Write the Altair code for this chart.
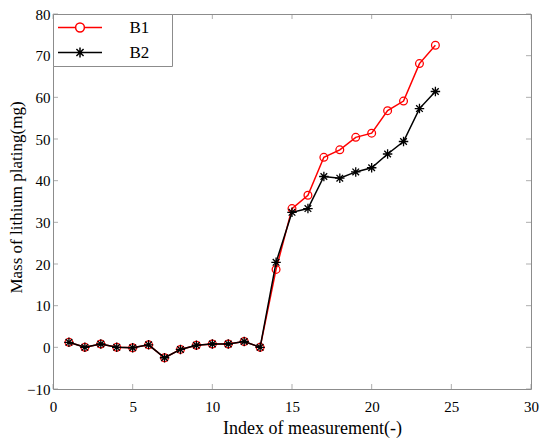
import altair as alt
import pandas as pd

# ---- data ----
index = list(range(1, 25))
b1 = [1.2, 0.0, 0.8, 0.0, -0.1, 0.6, -2.5, -0.5, 0.5, 0.8, 0.8, 1.4, 0.0,
      18.7, 33.3, 36.5, 45.6, 47.4, 50.4, 51.4, 56.8, 59.1, 68.1, 72.5]
b2 = [1.2, 0.0, 0.8, 0.0, -0.1, 0.6, -2.5, -0.5, 0.5, 0.8, 0.8, 1.4, 0.0,
      20.4, 32.4, 33.3, 41.0, 40.6, 42.1, 43.1, 46.4, 49.4, 57.3, 61.4]
series_names = ["B1", "B2"]
x_ticks = [0, 5, 10, 15, 20, 25, 30]
y_ticks = [-10, 0, 10, 20, 30, 40, 50, 60, 70, 80]
x_title = "Index of measurement(-)"
y_title = "Mass of lithium plating(mg)"

df = pd.DataFrame({
    "idx": index + index,
    "mass": b1 + b2,
    "series": ["B1"] * len(b1) + ["B2"] * len(b2),
})
df_xt = pd.DataFrame({"idx": x_ticks})
df_yt = pd.DataFrame({"mass": y_ticks})

FONT = "Liberation Serif"
FRAME = "#8c8c8c"
RED = "#ff0000"
BLACK = "#000000"

# marker paths
star_path = "M-1,0L1,0M0,-1L0,1M-0.7,-0.7L0.7,0.7M-0.7,0.7L0.7,-0.7"
leg_circle = ("M-4,0L-0.8,0M0.8,0L4,0"
              "M0.8,0A0.8,0.8 0 1,1 -0.8,0A0.8,0.8 0 1,1 0.8,0")
leg_star = ("M-4,0L4,0M0,-0.9L0,0.9M-0.65,-0.65L0.65,0.65"
            "M-0.65,0.65L0.65,-0.65")

xs = alt.Scale(domain=[x_ticks[0], x_ticks[-1]], nice=False, zero=False)
ys = alt.Scale(domain=[y_ticks[0], y_ticks[-1]], nice=False, zero=False)

x_enc = alt.X("idx:Q", scale=xs,
              axis=alt.Axis(values=x_ticks, title=x_title, titleX=259, titleY=44,
                            titleFontSize=18,
                            titleBaseline="alphabetic", labelPadding=10))
y_enc = alt.Y("mass:Q", scale=ys,
              axis=alt.Axis(values=y_ticks, title=y_title, titleX=-32, titleY=183,
                            titleBaseline="alphabetic", labelPadding=3))

base = alt.Chart(df)

line_b1 = base.transform_filter("datum.series == 'B1'").mark_line(
    color=RED, strokeWidth=1.5).encode(x=x_enc, y=y_enc)
pts_b1 = base.transform_filter("datum.series == 'B1'").mark_point(
    shape="circle", filled=False, color=RED, size=60, strokeWidth=1.3,
    opacity=1).encode(x=x_enc, y=y_enc)
line_b2 = base.transform_filter("datum.series == 'B2'").mark_line(
    color=BLACK, strokeWidth=1.5).encode(x=x_enc, y=y_enc)
pts_b2 = base.transform_filter("datum.series == 'B2'").mark_point(
    shape=star_path, filled=False, color=BLACK, size=90, strokeWidth=1.3,
    opacity=1).encode(x=x_enc, y=y_enc)

# trailing non-breaking spaces, closed by a zero-width char so they are not trimmed
pad_label = "\u00a0" * 4 + "\u200b"
leg_props = dict(title=None, orient="top-left", offset=0, padding=5,
                 strokeColor=FRAME, fillColor="white", labelFont=FONT,
                 labelFontSize=17, labelColor="black", rowPadding=7,
                 symbolSize=121, symbolOffset=13.5, labelOffset=41,
                 symbolStrokeWidth=1.5,
                 labelExpr="datum.label + '" + pad_label + "'")

legend_layer = base.transform_filter("datum.idx > 1000").mark_point(
    filled=False, strokeWidth=1.5, opacity=1).encode(
    x=x_enc, y=y_enc,
    color=alt.Color("series:N",
                    scale=alt.Scale(domain=series_names, range=[RED, BLACK]),
                    legend=alt.Legend(**leg_props)),
    shape=alt.Shape("series:N",
                    scale=alt.Scale(domain=series_names, range=[leg_circle, leg_star]),
                    legend=alt.Legend(**leg_props)),
)

tick_len = 5
bottom_ticks = alt.Chart(df_xt).transform_calculate(mass=str(y_ticks[0])).mark_tick(
    orient="vertical", color=FRAME, size=tick_len, thickness=1,
    yOffset=-tick_len / 2).encode(x=x_enc, y=y_enc)
top_ticks = alt.Chart(df_xt).transform_calculate(mass=str(y_ticks[-1])).mark_tick(
    orient="vertical", color=FRAME, size=tick_len, thickness=1,
    yOffset=tick_len / 2).encode(x=x_enc, y=y_enc)
left_ticks = alt.Chart(df_yt).transform_calculate(idx=str(x_ticks[0])).mark_tick(
    orient="horizontal", color=FRAME, size=tick_len, thickness=1,
    xOffset=tick_len / 2).encode(x=x_enc, y=y_enc)
right_ticks = alt.Chart(df_yt).transform_calculate(idx=str(x_ticks[-1])).mark_tick(
    orient="horizontal", color=FRAME, size=tick_len, thickness=1,
    xOffset=-tick_len / 2).encode(x=x_enc, y=y_enc)

chart = alt.layer(
    line_b1, pts_b1, line_b2, pts_b2, legend_layer,
    bottom_ticks, top_ticks, left_ticks, right_ticks,
).properties(
    width=478, height=375,
    autosize=alt.AutoSizeParams(type="none"),
    padding={"left": 45, "top": 6, "right": 11, "bottom": 50},
    background="white",
).configure_view(
    stroke=FRAME, strokeWidth=1,
).configure_axis(
    labelFont=FONT, labelFontSize=15, labelColor="black",
    titleFont=FONT, titleFontSize=17, titleFontWeight="normal", titleColor="black",
    ticks=False, domain=False, grid=False, labelFlush=False,
)

chart.save("out.html", embed_options={"renderer": "svg", "actions": False})
